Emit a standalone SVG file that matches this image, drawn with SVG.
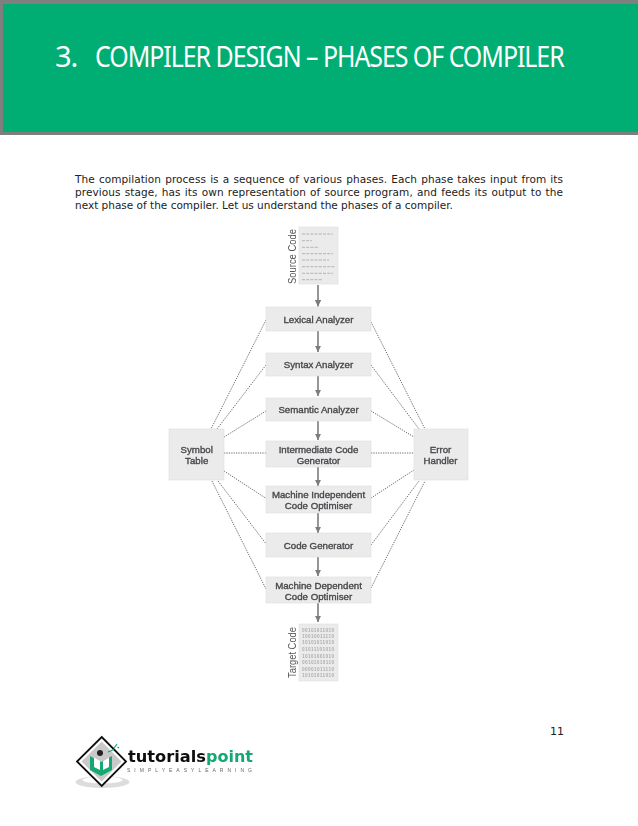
<svg xmlns="http://www.w3.org/2000/svg" width="638" height="826" viewBox="0 0 638 826">
<style>
.box{fill:#ebebeb;stroke:#dcdcdc;stroke-width:.6}
.lbl{font:400 9.7px "Liberation Sans",Arial,sans-serif;fill:#48484c;stroke:#48484c;stroke-width:.35;text-anchor:middle}
.side{font:400 10.4px "Liberation Sans",Arial,sans-serif;fill:#555}
.arrow{stroke:#7c7c7c;stroke-width:1.6;fill:none;marker-end:url(#head)}
.dot{stroke:#6e6e6e;stroke-width:1;stroke-dasharray:1.3 1.1;fill:none}
.dash{stroke:#adadad;stroke-width:.9;stroke-dasharray:3 1.2;fill:none}
.bin{font:700 4.7px "Liberation Sans",Arial,sans-serif;fill:#aeaeae}
.body{font:400 10.5px "DejaVu Sans",Verdana,sans-serif;fill:#222}
.title{font:400 29px "Noto Sans",Arial,sans-serif;fill:#fff;letter-spacing:-1.2px}
</style>
<defs>
<marker id="head" markerUnits="userSpaceOnUse" markerWidth="8" markerHeight="7" refX="6.5" refY="3.2" orient="auto"><path d="M0 0L6.5 3.2L0 6.4Z" fill="#7c7c7c"/></marker>
<filter id="soft" x="-5%" y="-5%" width="110%" height="110%"><feGaussianBlur stdDeviation=".35"/></filter>
</defs>
<rect width="638" height="826" fill="#fff"/>
<g id="header">
<rect x="0" y="0" width="638" height="135" fill="#7f7f7f"/>
<rect x="3" y="4" width="635" height="128" fill="#00ae73"/>
<text class="title" x="55" y="67">3.</text>
<text class="title" transform="translate(95 67) scale(.86 1)">COMPILER DESIGN – PHASES OF COMPILER</text>
</g>
<g id="intro">
<text class="body" x="75" y="183" textLength="488" lengthAdjust="spacing" style="word-spacing:.8px">The compilation process is a sequence of various phases. Each phase takes input from its</text>
<text class="body" x="75" y="196" textLength="488" lengthAdjust="spacing" style="word-spacing:.8px">previous stage, has its own representation of source program, and feeds its output to the</text>
<text class="body" x="75" y="209">next phase of the compiler. Let us understand the phases of a compiler.</text>
</g>
<g id="diagram" filter="url(#soft)">
<g id="connectors">
<path class="dot" d="M266 320L211 429M266 365L217 429M266 411L224 437M224 453H266M224 471L267 499M218 481L267 545M212 481L266 589"/>
<path class="dot" d="M371 322L425 429M371 365L419 429M371 411L414 437M371 453H414M371 498L414 470M371 545L419 481M371 588L425 481"/>
<path class="arrow" d="M318 285V306.500"/>
<path class="arrow" d="M318 331V352"/>
<path class="arrow" d="M318 376V396"/>
<path class="arrow" d="M318 421V440"/>
<path class="arrow" d="M318 467V486"/>
<path class="arrow" d="M318 513V533"/>
<path class="arrow" d="M318 557V576"/>
<path class="arrow" d="M318 603V622"/>
</g>
<g id="source-code">
<rect class="box" x="299" y="227" width="39" height="57"/>
<path class="dash" d="M302 234H333M302 240.700H312M302 247.300H319M302 253.700H333M302 260H329M302 266.700H335M302 273.300H333M302 279.700H322"/>
<text class="side" transform="translate(295.500 284) rotate(-90)" textLength="55" lengthAdjust="spacingAndGlyphs">Source Code</text>
</g>
<g id="lexical"><rect class="box" x="266" y="307" width="105" height="24"/><text class="lbl" x="318.500" y="323">Lexical Analyzer</text></g>
<g id="syntax"><rect class="box" x="266" y="353" width="105" height="23"/><text class="lbl" x="318.500" y="368">Syntax Analyzer</text></g>
<g id="semantic"><rect class="box" x="266" y="398" width="105" height="23"/><text class="lbl" x="318.500" y="413">Semantic Analyzer</text></g>
<g id="intermediate"><rect class="box" x="266" y="441" width="105" height="26"/><text class="lbl" x="318.500" y="453">Intermediate Code</text><text class="lbl" x="318.500" y="464">Generator</text></g>
<g id="machine-independent"><rect class="box" x="266" y="486" width="105" height="27"/><text class="lbl" x="318.500" y="498">Machine Independent</text><text class="lbl" x="318.500" y="509">Code Optimiser</text></g>
<g id="code-generator"><rect class="box" x="266" y="533" width="105" height="24"/><text class="lbl" x="318.500" y="548.500">Code Generator</text></g>
<g id="machine-dependent"><rect class="box" x="266" y="577" width="105" height="26"/><text class="lbl" x="318.500" y="588.500">Machine Dependent</text><text class="lbl" x="318.500" y="599.500">Code Optimiser</text></g>
<g id="symbol-table"><rect class="box" x="169" y="429" width="55" height="51"/><text class="lbl" x="196.700" y="453">Symbol</text><text class="lbl" x="196.700" y="464">Table</text></g>
<g id="error-handler"><rect class="box" x="414" y="429" width="54" height="51"/><text class="lbl" x="440.500" y="453">Error</text><text class="lbl" x="440.500" y="464">Handler</text></g>
<g id="target-code">
<rect class="box" x="299" y="624" width="39" height="57"/>
<g class="bin">
<text x="302" y="631.700" textLength="32">00101011010</text>
<text x="302" y="638" textLength="32">10010011110</text>
<text x="302" y="644.400" textLength="32">10101011010</text>
<text x="302" y="651" textLength="32">01011101010</text>
<text x="302" y="657.700" textLength="32">10101001010</text>
<text x="302" y="664" textLength="32">00101010110</text>
<text x="302" y="670.700" textLength="32">00001011110</text>
<text x="302" y="677" textLength="32">10101011010</text>
</g>
<text class="side" transform="translate(295.500 678) rotate(-90)" textLength="51" lengthAdjust="spacingAndGlyphs">Target Code</text>
</g>
</g>
<text id="page-number" x="550" y="735" style="font:400 11px 'DejaVu Sans',Verdana,sans-serif;fill:#222">11</text>
<g id="logo" filter="url(#soft)">
<ellipse cx="102.500" cy="782" rx="27" ry="6" fill="#dcdcdc"/>
<ellipse cx="102.500" cy="780" rx="20" ry="3.500" fill="#fff"/>
<path d="M101.700 737L126 761.500L101.700 786L77 761.500Z" fill="#fff" stroke="#111" stroke-width="1.800"/>
<path d="M101.700 741.500L121.500 761.500L101.700 781.500L81.500 761.500Z" fill="#c9c9c9"/>
<path d="M90 756L101 762L112 756V770L101 776L90 770Z" fill="#12a873"/>
<path d="M94 757.500L100 761V770L94 767ZM103 761L109 757.500V767L103 770Z" fill="#fff"/>
<circle cx="100" cy="753" r="3" fill="#222"/>
<path d="M108 752L114 749.500M114 748L117 744M117.500 747L119 748" stroke="#12a873" stroke-width="1.200" fill="none"/>
<text x="128" y="762" textLength="78" lengthAdjust="spacingAndGlyphs" style="font:700 15px 'DejaVu Sans',sans-serif;fill:#111">tutorials</text>
<text x="206" y="762" textLength="47" lengthAdjust="spacingAndGlyphs" style="font:700 15px 'DejaVu Sans',sans-serif;fill:#12a873">point</text>
<text x="127" y="772" textLength="125" lengthAdjust="spacing" style="font:400 5px 'Liberation Sans',sans-serif;fill:#666">SIMPLYEASYLEARNING</text>
</g>
</svg>
